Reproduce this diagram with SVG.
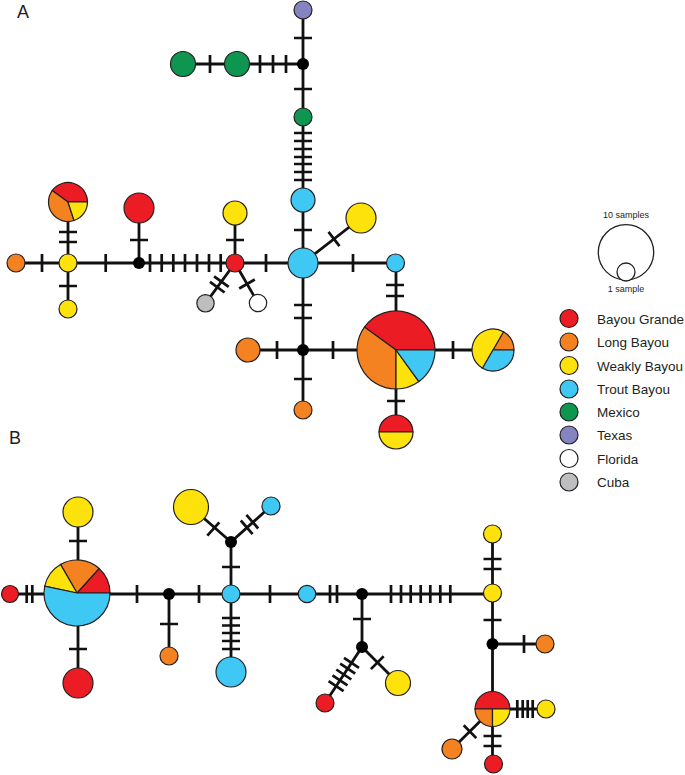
<svg xmlns="http://www.w3.org/2000/svg" width="685" height="775" viewBox="0 0 685 775">
<style>
.e{stroke:#111;stroke-width:2.8;fill:none}
.t{stroke:#111;stroke-width:2.7;fill:none}
.n{stroke:#231f20;stroke-width:1.2}
.bg{fill:#ec1c24}.lb{fill:#f58220}.wb{fill:#fde20b}.tb{fill:#3ec8f3}.mx{fill:#0e9550}.tx{fill:#8583c0}.fl{fill:#ffffff}.cu{fill:#bcbec0}
.mv{fill:#000}
.lab{font-family:"Liberation Sans",Arial,sans-serif;fill:#231f20}
</style>
<rect width="685" height="775" fill="#fff"/>
<text class="lab" x="17" y="18" font-size="18">A</text>
<text class="lab" x="9" y="444" font-size="18">B</text>

<g id="connectors">
<!-- Panel A edges -->
<path class="e" d="M303,10V350 M183,64H303 M16,263H396 M396,263V432 M303,350H248 M303,350H396 M303,350V410 M396,350H493 M303,263L361,218 M235,263L205.5,303.3 M235,263L258,303 M235,263V213 M139,263V208 M68,263V202 M68,263V309"/>
<path class="t" d="M294,38H312 M210,55V73 M260,55V73 M273,55V73 M286,55V73 M294,89H312
M294,133H312 M294,141H312 M294,149H312 M294,157H312 M294,164H312 M294,172H312 M294,180H312
M294,230H312 M328.5,231.9L339.5,246.1 M353,254V272 M386,285H404 M386,296H404
M294,305H312 M294,318H312 M277,341V359 M333,341V359 M294,379H312 M453,341V359 M387,401H405
M266,254V272 M226,240H244 M214.1,276.3L228.7,286.9 M210,281.9L224.6,292.5 M239.2,288.5L254.8,279.5
M150,254V272 M161.7,254V272 M173.3,254V272 M185,254V272 M197,254V272 M209,254V272 M220.7,254V272
M130,240H148 M105.7,254V272 M42,254V272 M59,286H77 M59,232H77 M59,242H77"/>
<!-- Panel B edges -->
<path class="e" d="M10,594H492.5 M78,512V683 M169,594V656 M231,542V672 M231,542L191,507 M231,542L271,506 M362,594V647 M362,647L325,703 M362,647L398,683 M492.5,534V709 M492.5,644H545 M492.5,709H546 M492.5,709V764 M492.5,709L452,749"/>
<path class="t" d="M26.7,585V603 M32.3,585V603 M69,541H87 M69,649H87 M137,585V603 M160,624H178 M199,585V603
M222,567H240 M207.3,535.7L219.3,522.3 M240.8,520.5L252.6,534.1 M246.4,514.9L258.2,528.5
M222,618H240 M222,625.5H240 M222,633H240 M222,641H240 M222,649H240
M270,585V603 M330,585V603 M337,585V603
M391,585V603 M401,585V603 M410.7,585V603 M420.7,585V603 M430.3,585V603 M440.3,585V603 M450.3,585V603
M353,619H371 M344,657.8L359,667.8 M340.2,663.7L355.2,673.7 M336.3,669.5L351.3,679.5 M332.5,675.4L347.5,685.4 M328.6,681.2L343.6,691.2
M370.9,669.1L383.7,656.3
M483.5,559H501.5 M483.5,569H501.5 M483.5,620H501.5 M524,635V653
M517.3,700V718 M522.7,700V718 M527.7,700V718 M532.7,700V718
M483.5,736H501.5 M483.5,746H501.5 M463.7,725.3L476.3,738.1"/>
</g>

<!-- Panel A nodes -->
<g id="a-texas"><circle class="n tx" cx="303" cy="10" r="9"/></g>
<g id="a-mv1"><circle class="mv" cx="303" cy="64" r="6"/></g>
<g id="a-mex1"><circle class="n mx" cx="183" cy="64" r="12.5"/></g>
<g id="a-mex2"><circle class="n mx" cx="237" cy="64" r="12.5"/></g>
<g id="a-mex3"><circle class="n mx" cx="303" cy="117" r="9"/></g>
<g id="a-tb1"><circle class="n tb" cx="303" cy="200" r="12"/></g>
<g id="a-tb2"><circle class="n tb" cx="303" cy="263" r="15"/></g>
<g id="a-wb1"><circle class="n wb" cx="361" cy="218" r="15"/></g>
<g id="a-tb3"><circle class="n tb" cx="395.5" cy="263" r="9"/></g>
<g id="a-mv2"><circle class="mv" cx="303" cy="350" r="6"/></g>
<g id="a-lb1"><circle class="n lb" cx="248" cy="350" r="12"/></g>
<g id="a-lb2"><circle class="n lb" cx="303" cy="410" r="9"/></g>
<g id="a-pie-big">
<path class="n bg" d="M396,350 L435,350 A39,39 0 0 0 364.45,327.08 Z"/>
<path class="n lb" d="M396,350 L364.45,327.08 A39,39 0 0 0 396,389 Z"/>
<path class="n wb" d="M396,350 L396,389 A39,39 0 0 0 418.92,381.55 Z"/>
<path class="n tb" d="M396,350 L418.92,381.55 A39,39 0 0 0 435,350 Z"/>
</g>
<g id="a-pie-right">
<path class="n lb" d="M493,350 L514,350 A21,21 0 0 0 503.5,331.81 Z"/>
<path class="n wb" d="M493,350 L503.5,331.81 A21,21 0 0 0 482.5,368.19 Z"/>
<path class="n tb" d="M493,350 L482.5,368.19 A21,21 0 0 0 514,350 Z"/>
</g>
<g id="a-pie-half">
<path class="n bg" d="M379,432 A17,17 0 0 1 413,432 Z"/>
<path class="n wb" d="M379,432 A17,17 0 0 0 413,432 Z"/>
</g>
<g id="a-bg1"><circle class="n bg" cx="235" cy="263" r="9"/></g>
<g id="a-wb2"><circle class="n wb" cx="235" cy="213" r="12"/></g>
<g id="a-cuba"><circle class="n cu" cx="205.5" cy="303.3" r="8.7"/></g>
<g id="a-florida"><circle class="n fl" cx="258" cy="303" r="8.7"/></g>
<g id="a-mv3"><circle class="mv" cx="139" cy="263" r="6"/></g>
<g id="a-bg2"><circle class="n bg" cx="139" cy="208" r="15"/></g>
<g id="a-wb3"><circle class="n wb" cx="68" cy="263" r="9"/></g>
<g id="a-lb3"><circle class="n lb" cx="16" cy="263" r="9"/></g>
<g id="a-wb4"><circle class="n wb" cx="68" cy="309" r="9"/></g>
<g id="a-pie-left">
<path class="n bg" d="M68,202 L87.5,202 A19.5,19.5 0 0 0 52.22,190.54 Z"/>
<path class="n lb" d="M68,202 L52.22,190.54 A19.5,19.5 0 0 0 74.03,220.55 Z"/>
<path class="n wb" d="M68,202 L74.03,220.55 A19.5,19.5 0 0 0 87.5,202 Z"/>
</g>

<!-- Panel B nodes -->
<g id="b-bg1"><circle class="n bg" cx="10" cy="594" r="8.5"/></g>
<g id="b-pie">
<path class="n bg" d="M77,593 L110,593 A33,33 0 0 0 99.08,568.48 Z"/>
<path class="n lb" d="M77,593 L99.08,568.48 A33,33 0 0 0 60.5,564.42 Z"/>
<path class="n wb" d="M77,593 L60.5,564.42 A33,33 0 0 0 44.72,586.14 Z"/>
<path class="n tb" d="M77,593 L44.72,586.14 A33,33 0 1 0 110,593 Z"/>
</g>
<g id="b-wb1"><circle class="n wb" cx="78" cy="512" r="15"/></g>
<g id="b-bg2"><circle class="n bg" cx="78" cy="683" r="15"/></g>
<g id="b-mv1"><circle class="mv" cx="169" cy="594" r="6"/></g>
<g id="b-lb1"><circle class="n lb" cx="169" cy="656" r="9"/></g>
<g id="b-tb1"><circle class="n tb" cx="231" cy="594" r="9"/></g>
<g id="b-mv2"><circle class="mv" cx="231" cy="542" r="6"/></g>
<g id="b-wb2"><circle class="n wb" cx="191" cy="507" r="17.5"/></g>
<g id="b-tb2"><circle class="n tb" cx="271" cy="506" r="9"/></g>
<g id="b-tb3"><circle class="n tb" cx="231" cy="672" r="15"/></g>
<g id="b-tb4"><circle class="n tb" cx="307" cy="594" r="8.7"/></g>
<g id="b-mv3"><circle class="mv" cx="362" cy="594" r="6"/></g>
<g id="b-mv4"><circle class="mv" cx="362" cy="647" r="6"/></g>
<g id="b-bg3"><circle class="n bg" cx="325" cy="703" r="9"/></g>
<g id="b-wb3"><circle class="n wb" cx="398" cy="683" r="12.5"/></g>
<g id="b-wb4"><circle class="n wb" cx="492.5" cy="593" r="9"/></g>
<g id="b-wb5"><circle class="n wb" cx="492.5" cy="534" r="9"/></g>
<g id="b-mv5"><circle class="mv" cx="492.5" cy="644" r="6"/></g>
<g id="b-lb2"><circle class="n lb" cx="545" cy="644" r="9"/></g>
<g id="b-pie-right">
<path class="n bg" d="M475,709 A17.5,17.5 0 0 1 510,709 Z"/>
<path class="n lb" d="M492.5,709 L475,709 A17.5,17.5 0 0 0 492.5,726.5 Z"/>
<path class="n wb" d="M492.5,709 L492.5,726.5 A17.5,17.5 0 0 0 510,709 Z"/>
</g>
<g id="b-wb6"><circle class="n wb" cx="546" cy="709" r="9"/></g>
<g id="b-bg4"><circle class="n bg" cx="493.5" cy="764" r="9"/></g>
<g id="b-lb3"><circle class="n lb" cx="452" cy="749" r="10"/></g>

<!-- Legend -->
<g id="legend-size">
<circle cx="626" cy="252.3" r="27.7" fill="none" stroke="#231f20" stroke-width="1.3"/>
<circle cx="626" cy="272" r="9" fill="#fff" stroke="#231f20" stroke-width="1.3"/>
<text class="lab" x="626" y="218" font-size="9" text-anchor="middle">10 samples</text>
<text class="lab" x="626" y="292" font-size="9" text-anchor="middle">1 sample</text>
</g>
<g id="legend" class="lab" font-size="13.5">
<circle class="n bg" cx="569" cy="318.5" r="9"/><text x="597" y="323.5">Bayou Grande</text>
<circle class="n lb" cx="569" cy="342" r="9"/><text x="597" y="347">Long Bayou</text>
<circle class="n wb" cx="569" cy="365.5" r="9"/><text x="597" y="370.5">Weakly Bayou</text>
<circle class="n tb" cx="569" cy="389" r="9"/><text x="597" y="394">Trout Bayou</text>
<circle class="n mx" cx="569" cy="412" r="9"/><text x="597" y="417">Mexico</text>
<circle class="n tx" cx="569" cy="435" r="9"/><text x="597" y="440">Texas</text>
<circle class="n fl" cx="569" cy="458.5" r="9"/><text x="597" y="463.5">Florida</text>
<circle class="n cu" cx="569" cy="482" r="9"/><text x="597" y="487">Cuba</text>
</g>
</svg>
